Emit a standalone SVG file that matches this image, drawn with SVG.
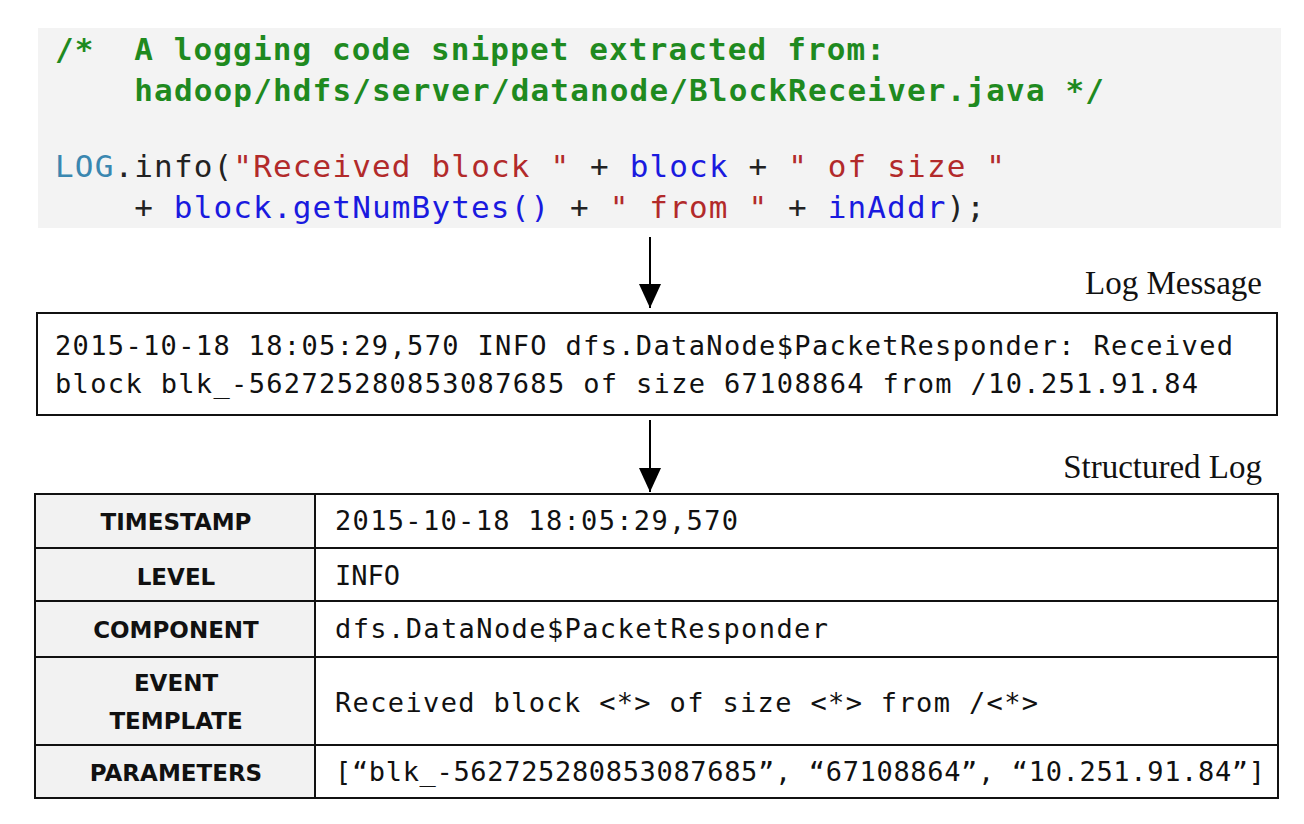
<svg xmlns="http://www.w3.org/2000/svg" width="1304" height="824" viewBox="0 0 1304 824">
<defs>
<style>
.code{font-family:"DejaVu Sans Mono","Liberation Mono",monospace;font-size:31px}
.cm{fill:#1f8a1f;font-weight:bold}
.kw{fill:#3a87b0}.bl{fill:#1a1adf}.st{fill:#b22a2a}.bk{fill:#222}
.mono{font-family:"DejaVu Sans Mono","Liberation Mono",monospace;font-size:27px;fill:#111}
.lbl{font-family:"Liberation Serif",serif;font-size:33px;fill:#111}
.hd{font-family:"DejaVu Sans","Liberation Sans",sans-serif;font-weight:bold;font-size:23px;fill:#111;text-anchor:middle}
.box{fill:#fff;stroke:#111;stroke-width:2}
.hbox{fill:#f2f2f2;stroke:#111;stroke-width:2}
</style>
<marker id="ah" markerWidth="24" markerHeight="22" refX="24" refY="11" orient="auto" markerUnits="userSpaceOnUse"><path d="M0,0 L24,11 L0,22 Z" fill="#000"/></marker>
</defs>
<rect width="1304" height="824" fill="#fff"/>
<g id="code">
<rect x="38" y="28" width="1243" height="200" fill="#f3f3f3"/>
<text class="code cm" x="55" y="60" textLength="830" xml:space="preserve">/*  A logging code snippet extracted from:</text>
<text class="code cm" x="55" y="101" textLength="1049" xml:space="preserve">    hadoop/hdfs/server/datanode/BlockReceiver.java */</text>
<text class="code" x="55" y="177" textLength="950" xml:space="preserve"><tspan class="kw">LOG</tspan><tspan class="bk">.info(</tspan><tspan class="st">"Received block "</tspan><tspan class="bk"> + </tspan><tspan class="bl">block</tspan><tspan class="bk"> + </tspan><tspan class="st">" of size "</tspan></text>
<text class="code" x="55" y="218" textLength="930" xml:space="preserve"><tspan class="bk">    + </tspan><tspan class="bl">block.getNumBytes()</tspan><tspan class="bk"> + </tspan><tspan class="st">" from "</tspan><tspan class="bk"> + </tspan><tspan class="bl">inAddr</tspan><tspan class="bk">);</tspan></text>
</g>
<g id="connectors" stroke="#000" stroke-width="2">
<line x1="650" y1="237" x2="650" y2="308" marker-end="url(#ah)"/>
<line x1="650" y1="420" x2="650" y2="492" marker-end="url(#ah)"/>
</g>
<g id="logmessage">
<text class="lbl" x="1262" y="294" text-anchor="end">Log Message</text>
<rect class="box" x="37" y="313" width="1240" height="102"/>
<text class="mono" x="55" y="355" textLength="1178">2015-10-18 18:05:29,570 INFO dfs.DataNode$PacketResponder: Received</text>
<text class="mono" x="55" y="393" textLength="1143">block blk_-562725280853087685 of size 67108864 from /10.251.91.84</text>
</g>
<g id="structured">
<text class="lbl" x="1262" y="478" text-anchor="end">Structured Log</text>
<rect class="hbox" x="35" y="494" width="280" height="54"/>
<rect class="box" x="315" y="494" width="963" height="54"/>
<rect class="hbox" x="35" y="548" width="280" height="53"/>
<rect class="box" x="315" y="548" width="963" height="53"/>
<rect class="hbox" x="35" y="601" width="280" height="56"/>
<rect class="box" x="315" y="601" width="963" height="56"/>
<rect class="hbox" x="35" y="657" width="280" height="88"/>
<rect class="box" x="315" y="657" width="963" height="88"/>
<rect class="hbox" x="35" y="745" width="280" height="53"/>
<rect class="box" x="315" y="745" width="963" height="53"/>
<text class="hd" x="176" y="530">TIMESTAMP</text>
<text class="hd" x="176" y="585">LEVEL</text>
<text class="hd" x="176" y="638">COMPONENT</text>
<text class="hd" x="176" y="691">EVENT</text>
<text class="hd" x="176" y="729">TEMPLATE</text>
<text class="hd" x="176" y="781">PARAMETERS</text>
<text class="mono" x="335" y="530" textLength="403">2015-10-18 18:05:29,570</text>
<text class="mono" x="335" y="585">INFO</text>
<text class="mono" x="335" y="638" textLength="493">dfs.DataNode$PacketResponder</text>
<text class="mono" x="335" y="712" textLength="703">Received block &lt;*&gt; of size &lt;*&gt; from /&lt;*&gt;</text>
<text class="mono" x="335" y="781" textLength="930">[“blk_-562725280853087685”, “67108864”, “10.251.91.84”]</text>
</g>
</svg>
